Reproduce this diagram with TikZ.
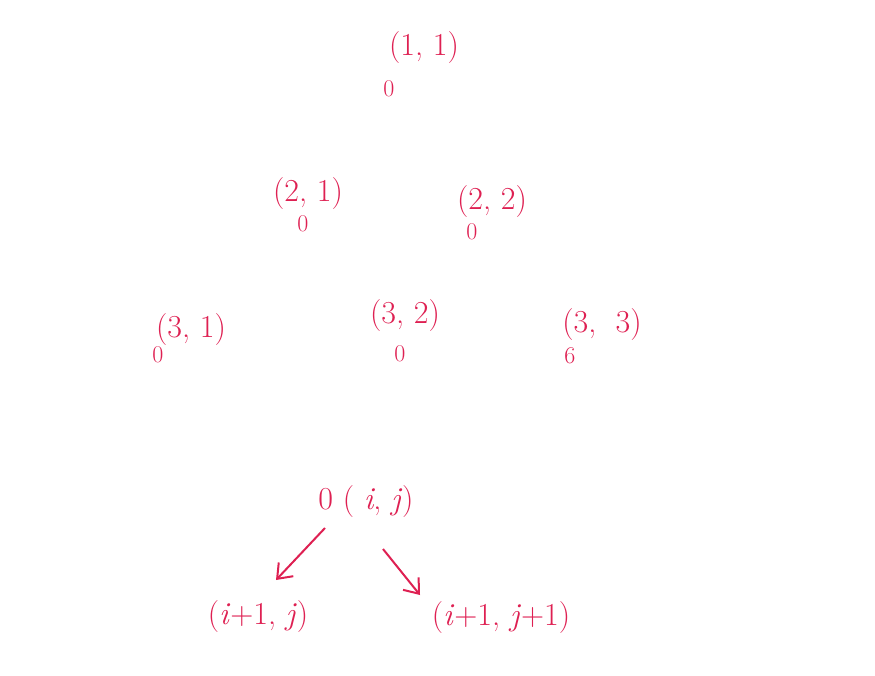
\documentclass[tikz,border=0pt]{standalone}
\usetikzlibrary{arrows.meta}
\definecolor{ink}{RGB}{222,32,82}
\begin{document}
\begin{tikzpicture}[x=1pt,y=-1pt,
  lbl/.style={text=ink,font=\fontsize{32}{36}\selectfont,inner sep=1pt},
  val/.style={text=ink,font=\fontsize{24}{28}\selectfont,inner sep=1pt},
  conn/.style={draw=ink,line width=2pt,-{Straight Barb[length=13pt,width=20pt,line width=2pt]}}]
\useasboundingbox (0,0) rectangle (875,676);
\node[lbl] (n11) at (424,48) {(1, 1)};
\node[val] (v11) at (389,89) {0};
\node[lbl] (n21) at (308,194) {(2, 1)};
\node[val] (v21) at (303,224) {0};
\node[lbl] (n22) at (492,202) {(2, 2)};
\node[val] (v22) at (472,232) {0};
\node[lbl] (n31) at (191,330) {(3, 1)};
\node[val] (v31) at (158,355) {0};
\node[lbl] (n32) at (405,316) {(3, 2)};
\node[val] (v32) at (400,354) {0};
\node[lbl] (n33) at (602,325) {(3,\ \ 3)};
\node[val] (v33) at (570,356) {6};
\node[lbl] (top) at (366,502) {0 ( \textit{i}, \textit{j})};
\node[lbl] (left) at (258,617) {(\textit{i}+1, \textit{j})};
\node[lbl] (right) at (501,618) {(\textit{i}+1, \textit{j}+1)};
\coordinate (la) at (325,528);
\coordinate (lb) at (276,580);
\coordinate (ra) at (383,549);
\coordinate (rb) at (420,595);
\draw[conn] (la) -- (lb);
\draw[conn] (ra) -- (rb);
\end{tikzpicture}
\end{document}
